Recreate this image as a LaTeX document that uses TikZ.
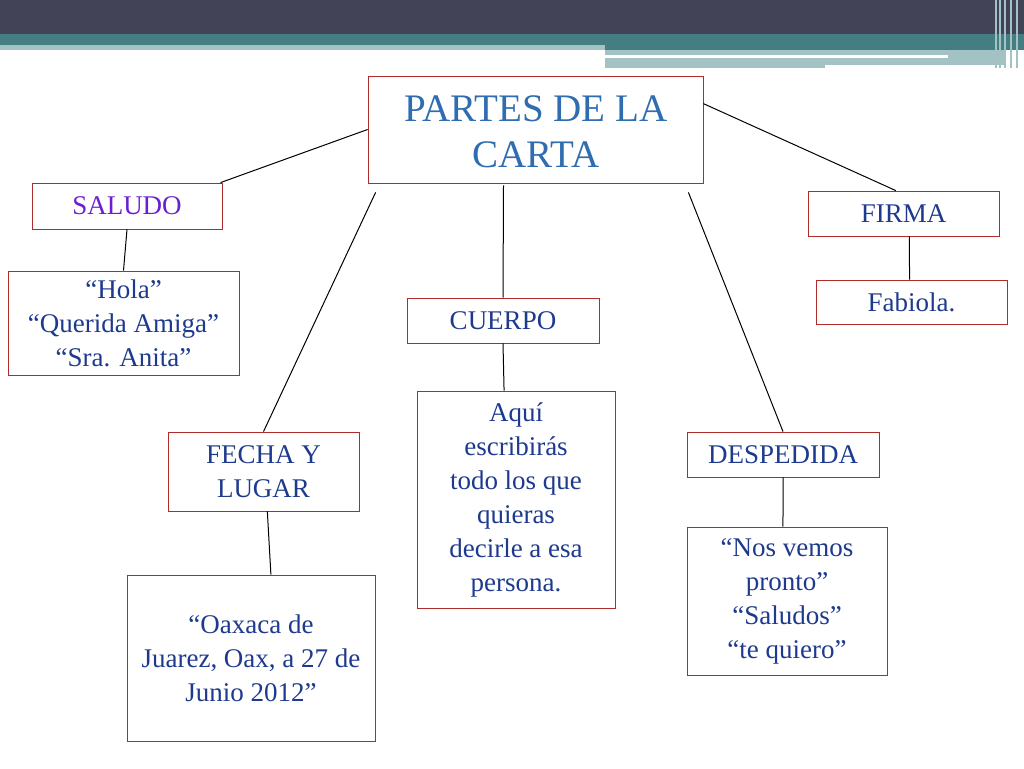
\documentclass[tikz,border=0pt]{standalone}
\usepackage{fontspec}
\setmainfont{Liberation Serif}
\usetikzlibrary{calc}
\definecolor{dark}{HTML}{424356}
\definecolor{teal}{HTML}{447E83}
\definecolor{lteal}{HTML}{A3C2C4}
\definecolor{bord}{HTML}{B02A2A}
\definecolor{ttl}{HTML}{2F6CB0}
\definecolor{lbl}{HTML}{6A1FD0}
\definecolor{txt}{HTML}{1E3A8E}
\definecolor{thin}{HTML}{4A4F80}
\tikzset{
 bx/.style={draw=bord,line width=0.8pt,align=center,inner sep=0pt,font=\fontsize{27}{34}\selectfont,text=txt},
 main/.style={black,line width=1pt},
 sub/.style={thin,line width=1pt}
}
\begin{document}
\begin{tikzpicture}[x=1pt,y=-1pt]
\useasboundingbox (0,0) rectangle (1024,768);
\fill[white] (0,0) rectangle (1024,768);
\fill[dark] (0,0) rectangle (1024,34);
\fill[teal] (0,34) rectangle (605,45);
\fill[lteal] (0,45) rectangle (605,50);
\fill[teal] (605,34) rectangle (1024,50);
\fill[lteal] (605,50) rectangle (1005,68);
\fill[white] (605,55) rectangle (948,58);
\fill[white] (825,65) rectangle (1005,68);
\foreach \x in {995,999,1004,1010,1016}{\fill[lteal] (\x,0) rectangle (\x+1.5,68);}
% boxes
\node[bx,minimum width=335,minimum height=107] (t) at (535.5,129.5) {};
\node[text=ttl,font=\fontsize{39}{46}\selectfont,align=center,inner sep=0pt] (tt) at (536,132) {PARTES DE LA\\CARTA};
\node[bx,minimum width=190,minimum height=46,text=lbl] (sal) at (127,206) {SALUDO};
\node[bx,minimum width=231,minimum height=104] (hola) at (123.5,323) {“Hola”\\“Querida Amiga”\\“Sra. Anita”};
\node[bx,minimum width=191,minimum height=45] (fir) at (903.5,213.5) {FIRMA};
\node[bx,minimum width=191,minimum height=44] (fab) at (911.5,302) {Fabiola.};
\node[bx,minimum width=192,minimum height=45] (cue) at (503,320.5) {CUERPO};
\node[bx,minimum width=198,minimum height=217] (aqui) at (516,499.5) {Aquí\\escribirás\\todo los que\\quieras\\decirle a esa\\persona.};
\node[bx,minimum width=191,minimum height=79] (fec) at (263.5,471.5) {FECHA Y\\LUGAR};
\node[bx,minimum width=248,minimum height=166] (oax) at (251,658) {“Oaxaca de\\Juarez, Oax, a 27 de\\Junio 2012”};
\node[bx,minimum width=192,minimum height=45] (des) at (783,454.5) {DESPEDIDA};
\node[bx,minimum width=200,minimum height=148] (nos) at (787,601) {“Nos vemos\\pronto”\\“Saludos”\\“te quiero”};
% connectors
\draw[main] ($(sal.north west)!0.99!(sal.north east)$) -- ($(t.north west)!0.5!(t.south west)$);
\draw[main] ($(t.north east)!0.26!(t.south east)$) -- ($(fir.north west)!0.46!(fir.north east)$);
\draw[main] ($(t.south west)+(8,9)$) -- ($(fec.north west)!0.5!(fec.north east)$);
\draw[main] ($(t.south east)+(-15,9)$) -- ($(des.north west)!0.5!(des.north east)$);
\draw[sub] ($(t.south)+(-32,2)$) -- (cue.north);
\draw[sub] (sal.south) -- ($(hola.north west)!0.5!(hola.north east)$);
\draw[sub] ($(fir.south west)!0.53!(fir.south east)$) -- ($(fab.north west)!0.49!(fab.north east)$);
\draw[sub] (cue.south) -- ($(aqui.north west)!0.44!(aqui.north east)$);
\draw[sub] ($(fec.south west)!0.52!(fec.south east)$) -- ($(oax.north west)!0.58!(oax.north east)$);
\draw[sub] (des.south) -- ($(nos.north west)!0.48!(nos.north east)$);
\end{tikzpicture}
\end{document}
